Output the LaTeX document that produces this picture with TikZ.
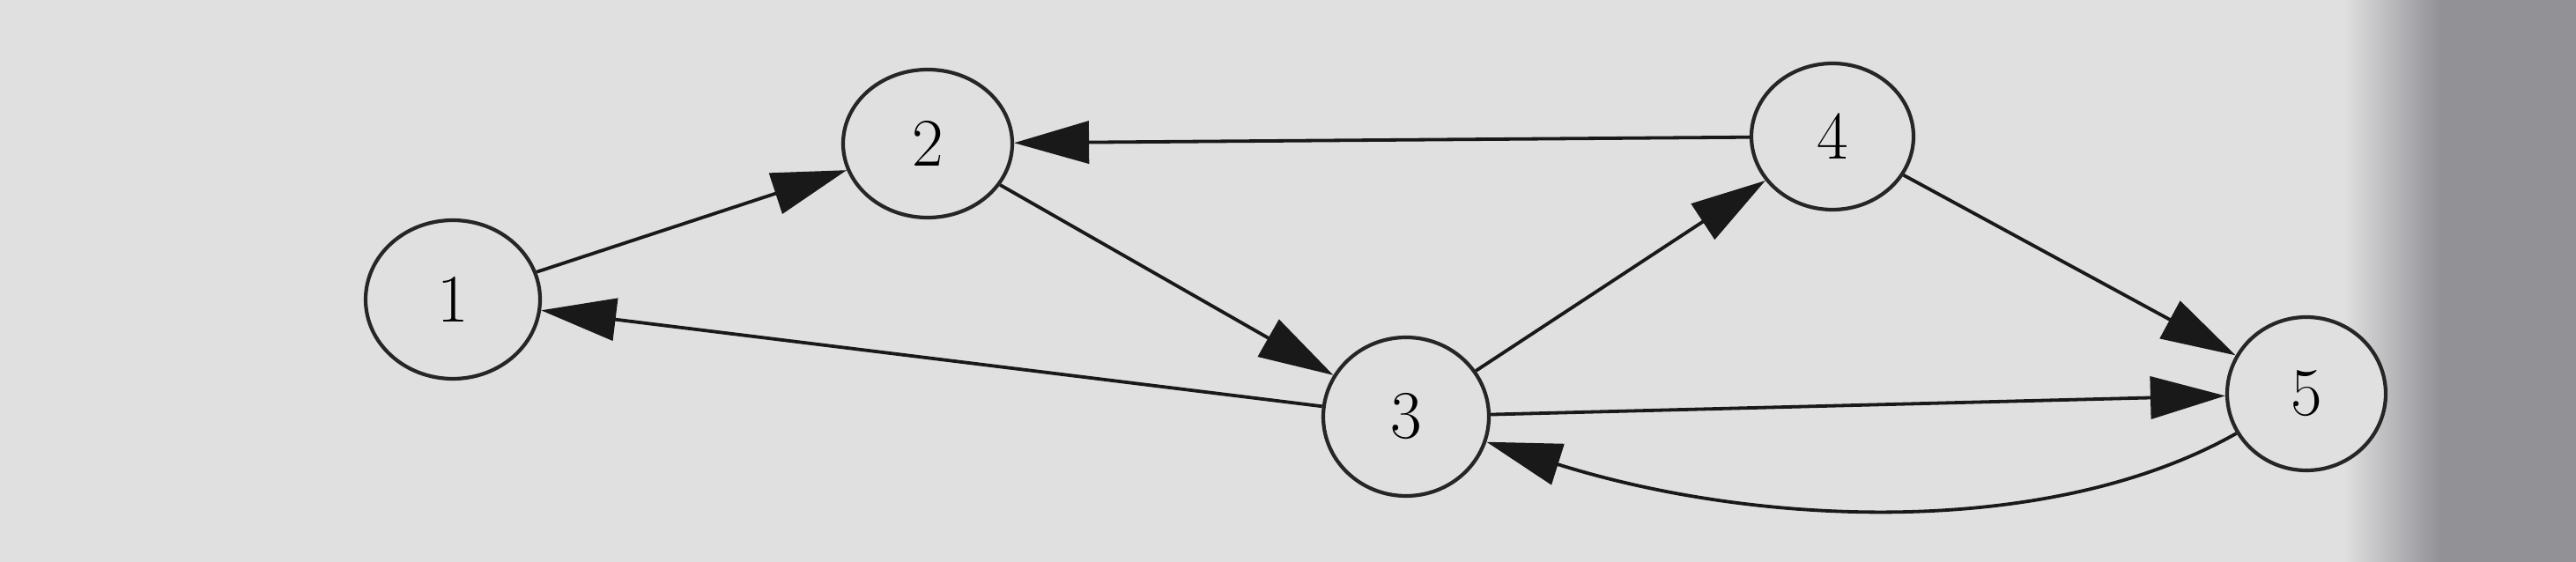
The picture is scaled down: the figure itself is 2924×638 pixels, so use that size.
\documentclass[tikz,border=0pt]{standalone}
\usetikzlibrary{shapes.geometric,arrows.meta}
\definecolor{bg}{RGB}{224,224,224}
\definecolor{darkedge}{RGB}{145,145,150}
\begin{document}
\begin{tikzpicture}[x=0.1mm,y=-0.1mm,
  vert/.style={ellipse,draw=black!85,line width=0.42mm,fill=bg,inner sep=0pt,
    font=\fontsize{22}{26}\selectfont},
  edge/.style={line width=0.38mm,draw=black!90,-{Triangle[length=8.5mm,width=4.8mm]}}]
\fill[bg] (0,0) rectangle (2924,638);
\shade[left color=bg,right color=darkedge] (2660,0) rectangle (2770,638);
\fill[darkedge] (2769,0) rectangle (2924,638);
\useasboundingbox (0,0) rectangle (2924,638);
\node[vert,minimum width=19.8mm,minimum height=18mm] (n1) at (514,340) {1};
\node[vert,minimum width=19.2mm,minimum height=16.8mm] (n2) at (1053,163) {2};
\node[vert,minimum width=18.8mm,minimum height=18mm] (n3) at (1596,473) {3};
\node[vert,minimum width=18.4mm,minimum height=16.6mm] (n4) at (2080,155) {4};
\node[vert,minimum width=18mm,minimum height=17.4mm] (n5) at (2618,447) {5};
\draw[edge] (n1) -- (n2);
\draw[edge] (n2) -- (n3);
\draw[edge] (n3) -- (n1);
\draw[edge] (n3) -- (n4);
\draw[edge] (n4) -- (n2);
\draw[edge] (n4) -- (n5);
\draw[edge] (n3) -- (n5);
\draw[edge] (n5) .. controls (2330,610) and (2000,600) .. (n3);
\end{tikzpicture}
\end{document}
